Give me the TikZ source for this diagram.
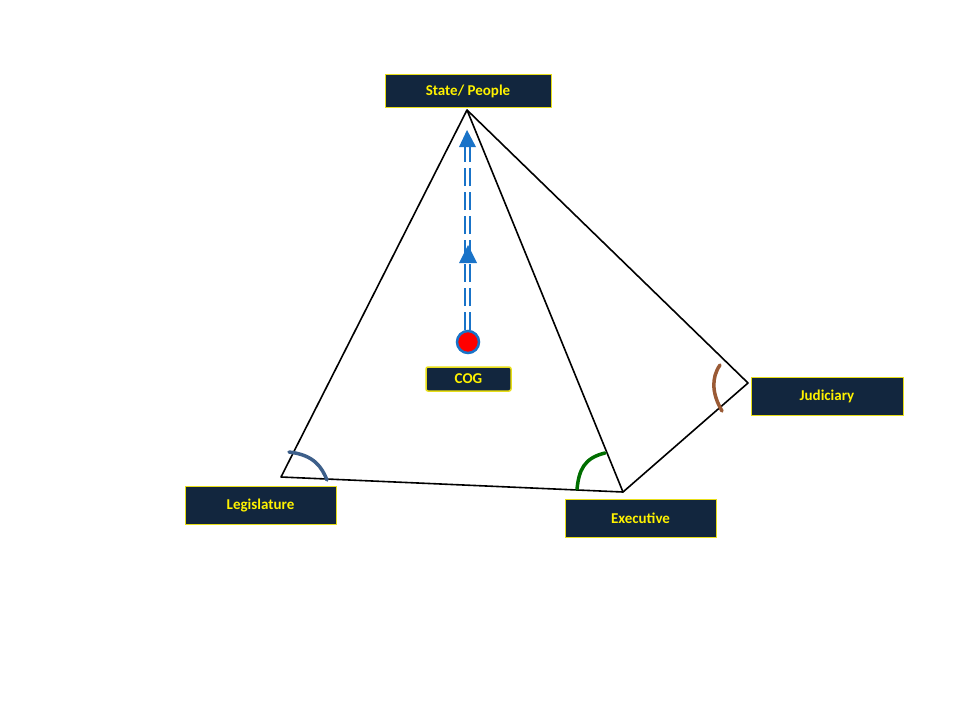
\documentclass[tikz,border=0pt]{standalone}
\usepackage{fontspec}
\setmainfont{Carlito}
\begin{document}
\begin{tikzpicture}[x=1pt,y=-1pt,
  lbl/.style={draw=yellow!90!black,line width=0.8pt,fill={rgb,255:red,18;green,38;blue,62},text=yellow,font=\bfseries\fontsize{15}{17}\selectfont,inner sep=0pt},
  edge/.style={line width=1.6pt,black},
  arcst/.style={line width=3.5pt,line cap=round}]
\useasboundingbox (0,0) rectangle (960,720);
\coordinate (A) at (467,110);
\coordinate (L) at (281,477);
\coordinate (E) at (623,492);
\coordinate (J) at (748,383);
\draw[edge,line join=round] (L) -- (A) -- (E) -- cycle;
\draw[edge,line join=round] (A) -- (J) -- (E);
\node[lbl,minimum width=166pt,minimum height=33pt] (sp) at (468,91) {State/ People};
\node[lbl,minimum width=151pt,minimum height=38pt] (leg) at (260.5,505.5) {Legislature};
\node[lbl,minimum width=151pt,minimum height=38pt] (exe) at (640.5,518) {Executive};
\node[lbl,minimum width=152pt,minimum height=38pt] (jud) at (827,396) {Judiciary};
\node[lbl,rounded corners=2pt,line width=1.5pt,minimum width=85pt,minimum height=24pt] (cog) at (468.5,379) {COG};
% arcs
\draw[arcst,color={rgb,255:red,61;green,95;blue,138}] (289,452) .. controls (315,455) and (322,468) .. (327,480);
\draw[arcst,color={rgb,255:red,0;green,110;blue,0}] (577,489) .. controls (579,470) and (584,458) .. (605,453);
\draw[arcst,color={rgb,255:red,154;green,90;blue,53}] (722,411) .. controls (712,394) and (711,378) .. (720,365);
% double dashed arrow
\coordinate (c) at (468,342);
\coordinate (t) at (467,135);
\draw[dashed,dash pattern=on 18pt off 6pt,line width=1.3pt,color={rgb,255:red,25;green,115;blue,200}] (465,330) -- (465,140);
\draw[dashed,dash pattern=on 18pt off 6pt,line width=1.3pt,color={rgb,255:red,25;green,115;blue,200}] (470,330) -- (470,140);
\fill[color={rgb,255:red,25;green,115;blue,200}] (467,130) -- (459,147) -- (476,147) -- cycle;
\fill[color={rgb,255:red,25;green,115;blue,200}] (468,245) -- (459,263) -- (477,263) -- cycle;
\node[circle,fill=red,draw={rgb,255:red,25;green,115;blue,200},line width=2.5pt,minimum size=22pt,inner sep=0pt] (cg) at (c) {};
\end{tikzpicture}
\end{document}
